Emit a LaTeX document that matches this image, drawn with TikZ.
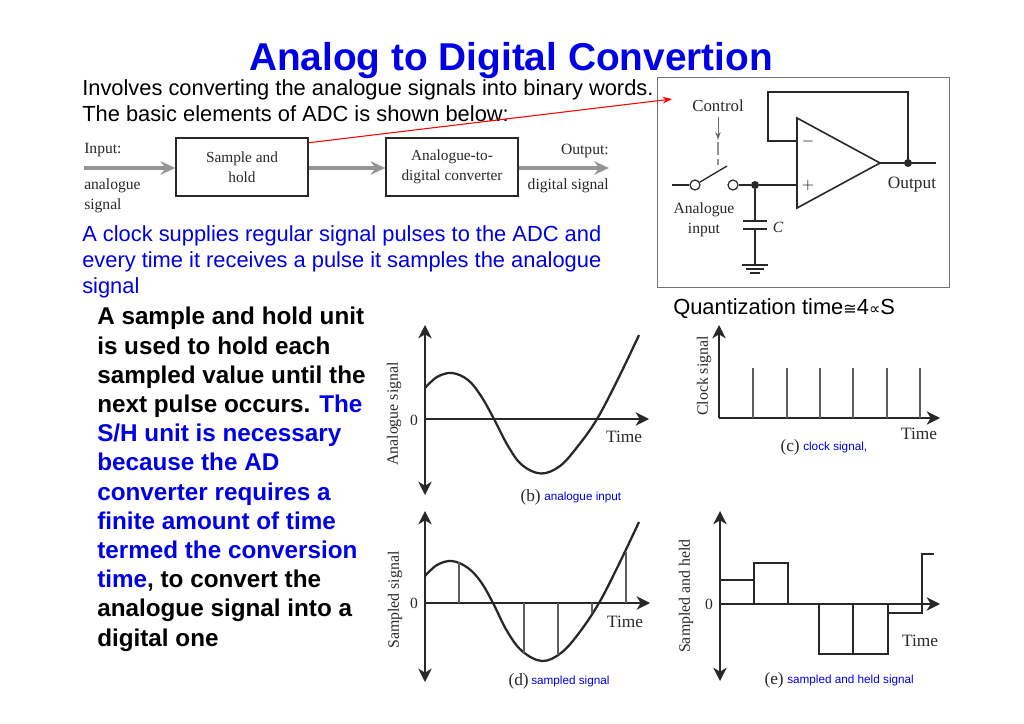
\documentclass[tikz,border=0pt]{standalone}
\usepackage{fontspec}
\setmainfont{Liberation Sans}
\newfontfamily\figfont{Liberation Serif}
\newfontfamily\symfont{DejaVu Sans}
\usetikzlibrary{arrows.meta}
\definecolor{titleblue}{RGB}{0,0,230}
\definecolor{figink}{RGB}{40,40,40}
\definecolor{flowgrey}{RGB}{150,150,150}
\tikzset{
  title/.style={anchor=base,inner sep=0pt,text=titleblue,font=\fontsize{29.1}{34}\bfseries\selectfont},
  bodytext/.style={anchor=north west,inner sep=0pt,align=left,font=\fontsize{16.4}{19.5}\selectfont},
  boldtext/.style={anchor=north west,inner sep=0pt,align=left,font=\fontsize{18.2}{21.9}\bfseries\selectfont},
  figlabel/.style={inner sep=0pt,align=center,text=figink,font=\figfont\fontsize{11.7}{15.2}\selectfont},
  figsmall/.style={figlabel,font=\figfont\fontsize{11.9}{13}\selectfont},
  figtime/.style={figlabel,font=\figfont\fontsize{13}{14}\selectfont},
  caption/.style={anchor=base west,inner sep=0pt,text=titleblue,font=\fontsize{8.8}{10}\selectfont},
  blockbox/.style={draw=figink,line width=0.9pt,minimum width=99pt,minimum height=43.5pt,inner sep=0pt,align=center,text=figink,font=\figfont\fontsize{11.5}{15}\selectfont},
  flow/.style={draw=flowgrey,line width=2.4pt,-{Stealth[length=11pt,width=10pt]}},
  axis/.style={draw=figink,line width=1.2pt,-{Stealth[length=10pt,width=10pt,inset=3pt]}},
  axisboth/.style={draw=figink,line width=1.2pt,{Stealth[length=10pt,width=10pt,inset=3pt]}-{Stealth[length=10pt,width=10pt,inset=3pt]}},
  wave/.style={draw=figink,line width=1.7pt},
  stem/.style={draw=figink!75,line width=0.9pt},
  wire/.style={draw=figink,line width=1pt},
  junction/.style={circle,fill=figink,inner sep=0pt,minimum size=6pt},
  terminal/.style={circle,draw=figink,fill=white,line width=0.9pt,inner sep=0pt,minimum size=7.5pt},
}
\begin{document}
\begin{tikzpicture}[x=0.75pt,y=0.75pt,yscale=-1,xscale=1]
\useasboundingbox (0,0) rectangle (1024,724);

% Text Node
\node (heading) [title] at (511,70) {Analog to Digital Convertion};
\node (intro) [bodytext] at (82,79) {Involves converting the analogue signals into binary words.\\The basic elements of ADC is shown below:};
\node (clocktext) [bodytext,text=titleblue] at (82,225) {A clock supplies regular signal pulses to the ADC and\\every time it receives a pulse it samples the analogue\\signal};
\node (holdtext) [boldtext] at (97,307) {A sample and hold unit\\is used to hold each\\sampled value until the\\next pulse occurs. \textcolor{titleblue}{The}\\\textcolor{titleblue}{S/H unit is necessary}\\\textcolor{titleblue}{because the AD}\\\textcolor{titleblue}{converter requires a}\\\textcolor{titleblue}{finite amount of time}\\\textcolor{titleblue}{termed the conversion}\\\textcolor{titleblue}{time}, to convert the\\analogue signal into a\\digital one};
\node (quanttext) [bodytext] at (673,298.5) {Quantization time{\symfont\fontsize{12}{13}\selectfont ≅}4{\symfont\fontsize{12}{13}\selectfont ∝}S};

% Block diagram
\node (sah) [blockbox] at (242,167) {Sample and\\hold};
\node (adc) [blockbox] at (452,167) {Analogue-to-\\digital converter};
\coordinate (inputend) at (84,168);
\coordinate (outputend) at (609,168);
\draw [flow] (inputend) -- (sah.west |- inputend);
\draw [flow] (sah.east |- inputend) -- (adc.west |- inputend);
\draw [flow] (adc.east |- inputend) -- (outputend);
\node (inputlabel) [figlabel,anchor=west] at (84,150) {Input:};
\node (analoguelabel) [figlabel,anchor=west,align=left] at (84,195.5) {analogue\\signal};
\node (outputlabel) [figlabel,anchor=east] at (609,151) {Output:};
\node (digitallabel) [figlabel,anchor=east] at (609,186) {digital signal};

% Sample and hold circuit
\node (circuitframe) [draw=black!55,line width=0.7pt,minimum width=219pt,minimum height=157.5pt,inner sep=0pt] at (803,182) {};
\coordinate (pointer) at (672,99);
\draw [red,line width=0.8pt,-{Stealth[length=7pt,width=5pt]}] (sah.20) -- (pointer);
\coordinate (ampa) at (797,118);
\coordinate (ampb) at (797,208);
\coordinate (ampc) at (880,163);
\draw [wire,line width=1.2pt] (ampa) -- (ampb) -- (ampc) -- cycle;
\node (outdot) [junction] at (908,163) {};
\node (capdot) [junction] at (755,185) {};
\node (swa) [terminal] at (695,185) {};
\node (swb) [terminal] at (733,185) {};
\coordinate (inend) at (672,185);
\coordinate (outend) at (936,163);
\coordinate (swtip) at (727,166);
\coordinate (fbleft) at (768,141);
\coordinate (capa) at (755,221);
\coordinate (capb) at (755,229);
\coordinate (gnd) at (755,265);
\draw [wire] (inend) -- (swa);
\draw [wire] (swa) -- (swtip);
\draw [wire] (swb) -- (capdot) -- (capdot -| ampa);
\draw [wire] (ampc) -- (outend);
\draw [wire] (outdot.center) -- (908,92) -- (768,92) -- (fbleft) -- (fbleft -| ampa);
\draw [wire] (capdot) -- (capa);
\draw [wire] (capb) -- (gnd);
\draw [wire,line width=1.2pt] (743,221) -- (767,221);
\draw [wire,line width=1.2pt] (743,229) -- (767,229);
\draw [wire] (742,265) -- (768,265);
\draw [wire] (746,269) -- (764,269);
\draw [wire,line width=1.2pt] (750,273) -- (760,273);
\draw [figink!70,line width=0.7pt,-{Stealth[length=6pt,width=4pt]}] (718,117) -- (718,140);
\draw [figink!50,line width=0.8pt,dash pattern={on 10pt off 3pt}] (718,142) -- (718,165);
\node (minus) [figlabel,text=black] at (808,141) {$-$};
\node (plus) [figlabel,text=black] at (808,185) {$+$};
\node (controllabel) [figlabel,font=\figfont\fontsize{12.6}{14}\selectfont] at (718,106) {Control};
\node (ainlabel) [figlabel] at (704,219.5) {Analogue\\input};
\node (clabel) [figlabel] at (778,227) {\itshape C};
\node (outlabel) [figtime] at (912,184.5) {Output};

% Analogue input plot
\coordinate (bzero) at (425,419);
\coordinate (bend) at (649,419);
\draw [axisboth] (425,325) -- (425,495);
\draw [axis] (bzero) -- (bend);
\draw [wave] plot [smooth,tension=0.6] coordinates {(425,388) (437,377) (452,373) (468,380) (481,396) (494,419) (508,446) (522,465) (541,473.5) (560,466) (578,446) (597,419) (618,379) (639,335)};
\node (bzerolabel) [figlabel] at (414,420) {0};
\node (btime) [figtime] at (624,437) {Time};
\node (bylabel) [figsmall,rotate=90] at (394,414) {Analogue signal};
\node (bcap) [figtime,anchor=base east] at (541,501) {(b)};
\node (bcaptext) [caption] at (544,500) {analogue input};

% Clock plot
\coordinate (corigin) at (719,418);
\coordinate (ctop) at (719,325);
\coordinate (cend) at (940,418);
\draw [axis] (corigin) -- (ctop);
\draw [axis] (corigin) -- (cend);
\draw [stem,line width=1.1pt] (753,418) -- (753,368);
\draw [stem,line width=1.1pt] (787,418) -- (787,368);
\draw [stem,line width=1.1pt] (820,418) -- (820,368);
\draw [stem,line width=1.1pt] (853,418) -- (853,368);
\draw [stem,line width=1.1pt] (887,418) -- (887,368);
\draw [stem,line width=1.1pt] (920,418) -- (920,368);
\node (ctime) [figtime] at (919,434) {Time};
\node (cylabel) [figsmall,rotate=90] at (704,376) {Clock signal};
\node (ccap) [figtime,anchor=base east] at (800,451) {(c)};
\node (ccaptext) [caption] at (803,450) {clock signal,};

% Sampled signal plot
\coordinate (dzero) at (425,603);
\coordinate (dend) at (650,603);
\draw [axisboth] (425,511) -- (425,682);
\draw [axis] (dzero) -- (dend);
\draw [wave] plot [smooth,tension=0.6] coordinates {(425,576) (437,565) (452,561) (468,568) (481,582) (493,603) (507,631) (522,651) (542,661) (561,653) (579,633) (599,603) (619,564) (639,522)};
\draw [stem] (459,603) -- (459,562);
\draw [stem] (524,603) -- (524,653);
\draw [stem] (558,603) -- (558,655);
\draw [stem] (592,603) -- (592,613);
\draw [stem] (626,603) -- (626,552);
\node (dzerolabel) [figlabel] at (414,603) {0};
\node (dtime) [figtime] at (625,622) {Time};
\node (dylabel) [figsmall,rotate=90] at (395,600) {Sampled signal};
\node (dcap) [figtime,anchor=base east] at (529,685) {(d)};
\node (dcaptext) [caption] at (531,684) {sampled signal};

% Sampled and held plot
\coordinate (ezero) at (720,604);
\coordinate (eend) at (940,604);
\draw [axisboth] (720,511) -- (720,681);
\draw [axis] (ezero) -- (eend);
\draw [wave] (720,580) -- (754,580) -- (754,563) -- (788,563) -- (788,604);
\draw [wave] (754,580) -- (754,604);
\draw [wave] (819,604) -- (819,654) -- (888,654) -- (888,604);
\draw [wave] (853,604) -- (853,654);
\draw [wave] (888,613) -- (922,613) -- (922,554) -- (934,554);
\node (ezerolabel) [figlabel] at (709,604) {0};
\node (etime) [figtime] at (920,641) {Time};
\node (eylabel) [figsmall,rotate=90] at (686,596) {Sampled and held};
\node (ecap) [figtime,anchor=base east] at (784,684) {(e)};
\node (ecaptext) [caption] at (787,683) {sampled and held signal};
\end{tikzpicture}
\end{document}
